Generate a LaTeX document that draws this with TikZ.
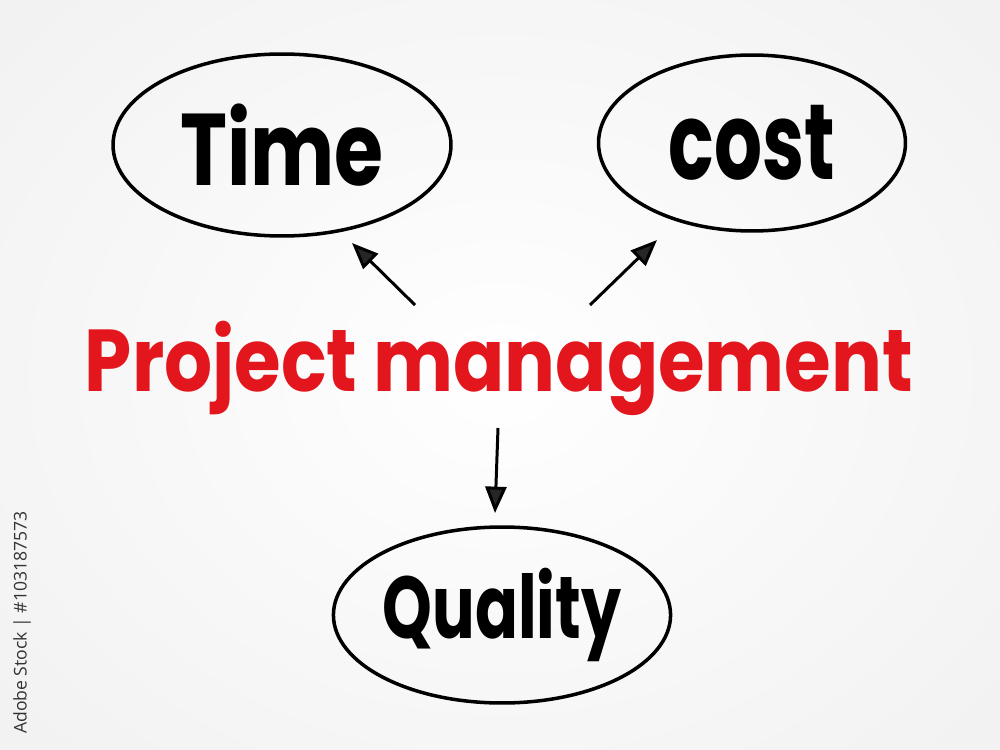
\documentclass[tikz,border=0pt]{standalone}
\usepackage{fontspec}
\setmainfont{Poppins}
\newfontfamily\stockfont{Open Sans}
\usetikzlibrary{shapes.geometric,arrows.meta}
\definecolor{pmred}{HTML}{E3161D}
\begin{document}
\begin{tikzpicture}[x=0.02cm,y=-0.02cm,
  bubble/.style={draw=black,line width=2pt,shape=ellipse,inner sep=0pt,font=\bfseries\fontsize{58}{60}\selectfont},
  hand/.style={line width=1.7pt,-{Triangle[length=15pt,width=12pt,fill=black!85]}}]
\useasboundingbox (0,0) rectangle (1000,750);
\shade[inner color=white,outer color=black!10] (-150,-150) rectangle (1150,900);
\fill[white,opacity=0.5] (0,0) rectangle (1000,750);
\node[bubble,minimum width=6.76cm,minimum height=3.64cm] (time) at (282,145) {\scalebox{0.78}[1]{Time}};
\node[bubble,minimum width=6.14cm,minimum height=3.52cm] (cost) at (752,143) {\scalebox{0.74}[1.05]{cost}};
\node[bubble,minimum width=6.7cm,minimum height=3.52cm,font=\bfseries\fontsize{50}{52}\selectfont] (quality) at (502,615) {\scalebox{0.72}[1]{Quality}};
\node[text=pmred,font=\bfseries\fontsize{50}{52}\selectfont] (pm) at (499,368) {\scalebox{0.86}[1]{Project management}};
\coordinate (a1s) at (415,305); \coordinate (a1e) at (352,243);
\coordinate (a2s) at (590,305); \coordinate (a2e) at (657,240);
\coordinate (a3s) at (498,428); \coordinate (a3e) at (495,513);
\draw[hand] (a1s) -- (a1e);
\draw[hand] (a2s) -- (a2e);
\draw[hand] (a3s) -- (a3e);
\node[rotate=90,text=black!80,font=\stockfont\fontsize{10}{12}\selectfont,anchor=west] (stock) at (22,740) {Adobe Stock | \#103187573};
\end{tikzpicture}
\end{document}
